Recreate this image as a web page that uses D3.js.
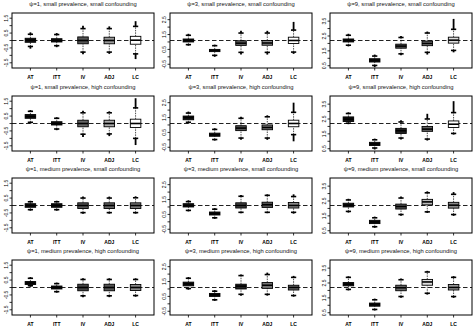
<!DOCTYPE html>
<html>
<head>
<meta charset="utf-8">
<script src="https://cdn.jsdelivr.net/npm/d3@7/dist/d3.min.js"></script>
<style>
body { margin: 0; background: #fff; }
text { font-family: 'Liberation Sans', Arial, sans-serif; }
</style>
</head>
<body>
<div id="hook-grid"></div>
<script>
'use strict';

var methods = ['AT', 'ITT', 'IV', 'ADJ', 'LC'];
var psis = [1, 3, 9];
var rowTitles = ['small prevalence, small confounding', 'small prevalence, high confounding',
  'medium prevalence, small confounding', 'medium prevalence, high confounding'];
var yTicks = [[-1.5, -1, -0.5, 0, 0.5, 1, 1.5], [-0.5, 0, 0.5, 1, 1.5, 2, 2.5], [0.5, 1, 1.5, 2, 2.5, 3, 3.5]];
var yTickLabels = [['-1.5', '-0.5', '0.5', '1.5'], ['-0.5', '0.5', '1.5', '2.5'], ['0.5', '1.5', '2.5', '3.5']];

// per box: [lowest outlier, lower whisker, q1, median, q3, upper whisker, highest outlier]
var r1c1 = [[-0.55, -0.4, -0.12, 0.02, 0.15, 0.42, 0.55], [-0.45, -0.35, -0.1, 0, 0.12, 0.4, 0.5],
  [-0.92, -0.78, -0.22, 0, 0.24, 0.8, 1.0], [-0.9, -0.78, -0.22, 0, 0.22, 0.8, 0.95], [-1.25, -0.9, -0.25, 0.02, 0.28, 0.95, 1.3]];
var r1c2 = [[0.75, 0.82, 1.0, 1.1, 1.2, 1.45, 1.55], [0.0, 0.1, 0.35, 0.43, 0.5, 0.75, 0.82],
  [0.15, 0.3, 0.77, 0.92, 1.08, 1.6, 1.75], [0.15, 0.3, 0.78, 0.93, 1.1, 1.6, 1.75], [0.2, 0.32, 0.9, 1.1, 1.32, 1.8, 2.35]];
var r1c3 = [[1.8, 1.88, 2.1, 2.2, 2.3, 2.55, 2.65], [0.4, 0.52, 0.75, 0.86, 0.97, 1.15, 1.25],
  [1.2, 1.3, 1.68, 1.82, 1.95, 2.4, 2.5], [1.25, 1.4, 1.85, 2.0, 2.15, 2.7, 2.8], [1.4, 1.53, 2.02, 2.22, 2.42, 2.95, 3.65]];
var r2c1 = [[0.0, 0.08, 0.35, 0.47, 0.6, 0.82, 0.9], [-0.45, -0.37, -0.1, 0, 0.12, 0.35, 0.42],
  [-0.9, -0.72, -0.22, 0, 0.22, 0.72, 0.85], [-0.85, -0.7, -0.22, 0, 0.22, 0.72, 0.82], [-1.45, -1.0, -0.27, 0, 0.29, 1.05, 1.7]];
var r2c2 = [[1.1, 1.18, 1.35, 1.5, 1.6, 1.8, 1.9], [-0.05, 0.02, 0.24, 0.34, 0.45, 0.7, 0.78],
  [0.0, 0.12, 0.62, 0.79, 0.95, 1.45, 1.55], [0.0, 0.12, 0.68, 0.83, 1.0, 1.55, 1.65], [-0.1, 0.35, 0.88, 1.1, 1.32, 1.85, 2.5]];
var r2c3 = [[2.15, 2.22, 2.33, 2.49, 2.64, 2.87, 2.95], [0.45, 0.55, 0.72, 0.82, 0.93, 1.1, 1.18],
  [1.12, 1.22, 1.53, 1.71, 1.87, 2.3, 2.42], [1.05, 1.15, 1.67, 1.82, 2.0, 2.5, 2.85], [1.45, 1.53, 1.93, 2.15, 2.37, 2.93, 3.7]];
var r3c1 = [[-0.35, -0.28, -0.12, 0, 0.12, 0.25, 0.32], [-0.35, -0.28, -0.12, 0, 0.12, 0.25, 0.32],
  [-0.55, -0.48, -0.2, 0, 0.18, 0.5, 0.6], [-0.55, -0.48, -0.2, 0, 0.18, 0.5, 0.6], [-0.55, -0.48, -0.2, 0, 0.18, 0.52, 0.62]];
var r3c2 = [[0.7, 0.77, 1.0, 1.1, 1.22, 1.36, 1.45], [0.2, 0.27, 0.46, 0.56, 0.66, 0.85, 0.92],
  [0.58, 0.64, 0.93, 1.1, 1.28, 1.72, 1.8], [0.58, 0.64, 0.97, 1.15, 1.32, 1.78, 1.85], [0.55, 0.64, 0.93, 1.1, 1.3, 1.7, 1.85]];
var r3c3 = [[1.72, 1.8, 2.1, 2.22, 2.35, 2.57, 2.65], [0.7, 0.77, 0.98, 1.09, 1.2, 1.37, 1.45],
  [1.5, 1.59, 1.96, 2.13, 2.29, 2.7, 2.8], [1.7, 1.77, 2.24, 2.44, 2.61, 3.05, 3.15], [1.5, 1.59, 2.02, 2.22, 2.41, 2.95, 3.1]];
var r4c1 = [[0.05, 0.12, 0.2, 0.3, 0.4, 0.62, 0.7], [-0.35, -0.28, -0.1, 0, 0.1, 0.26, 0.33],
  [-0.65, -0.56, -0.22, 0, 0.22, 0.54, 0.62], [-0.65, -0.56, -0.22, 0, 0.22, 0.54, 0.62], [-0.62, -0.54, -0.2, 0, 0.2, 0.54, 0.62]];
var r4c2 = [[0.95, 1.03, 1.21, 1.34, 1.46, 1.72, 1.8], [0.2, 0.27, 0.5, 0.6, 0.7, 0.85, 0.92],
  [0.55, 0.64, 1.0, 1.19, 1.32, 1.9, 1.98], [0.55, 0.64, 1.04, 1.25, 1.43, 1.97, 2.1], [0.48, 0.56, 0.93, 1.1, 1.25, 1.78, 1.88]];
var r4c3 = [[2.0, 2.07, 2.31, 2.42, 2.53, 2.88, 2.95], [0.65, 0.72, 0.94, 1.05, 1.15, 1.37, 1.45],
  [1.5, 1.59, 1.98, 2.18, 2.35, 2.72, 2.8], [1.72, 1.81, 2.35, 2.57, 2.74, 3.24, 3.32], [1.5, 1.59, 2.03, 2.2, 2.4, 2.88, 2.96]];

var grid = [[r1c1, r1c2, r1c3], [r2c1, r2c2, r2c3], [r3c1, r3c2, r3c3], [r4c1, r4c2, r4c3]];

// box fills as they look in the picture
var fills = [
  [['#111', '#111', '#555', '#999', '#fff'], ['#111', '#111', '#666', '#888', '#fff'], ['#111', '#111', '#555', '#777', '#ddd']],
  [['#111', '#111', '#666', '#aaa', '#fff'], ['#111', '#111', '#555', '#777', '#fff'], ['#111', '#111', '#222', '#666', '#fff']],
  [['#111', '#111', '#555', '#666', '#777'], ['#111', '#111', '#444', '#555', '#888'], ['#111', '#111', '#555', '#bbb', '#888']],
  [['#111', '#111', '#444', '#555', '#888'], ['#111', '#111', '#222', '#777', '#666'], ['#111', '#111', '#666', '#ddd', '#999']]
];

var options = {
  width: 474,
  height: 327,
  colLeft: [12, 170, 330],
  rowTop: [13, 96, 178, 260],
  plotW: 142,
  plotH: 55,
  halfRange: 1.85
};

function panel(svg, r, c) {
  var stats = grid[r][c];
  var centre = Math.log(psis[c]);
  var g = svg.append('g')
    .attr('transform', 'translate(' + options.colLeft[c] + ',' + options.rowTop[r] + ')');

  var x = d3.scaleLinear().domain([0.3, 5.7]).range([0, options.plotW]);
  var y = d3.scaleLinear().domain([centre - options.halfRange, centre + options.halfRange]).range([options.plotH, 0]);
  var bw = x(1.4) - x(1);

  g.append('text')
    .attr('x', options.plotW / 2)
    .attr('y', -7)
    .attr('text-anchor', 'middle')
    .style('font-size', '5.8px')
    .style('fill', '#111')
    .text('\u03c8=' + psis[c] + ', ' + rowTitles[r]);

  // y axis ticks
  g.selectAll('.yt').data(yTicks[c]).enter().append('line')
    .attr('x1', 0).attr('x2', -2.5)
    .attr('y1', function(d) { return y(d); })
    .attr('y2', function(d) { return y(d); })
    .style('stroke', '#000').style('stroke-width', 0.8);

  g.selectAll('.yl').data(yTickLabels[c]).enter().append('text')
    .attr('transform', function(d) { return 'translate(-4,' + y(+d) + ') rotate(-90)'; })
    .attr('text-anchor', 'middle')
    .style('font-size', '5px')
    .text(function(d) { return d; });

  // x ticks and labels
  methods.forEach(function(m, i) {
    g.append('line')
      .attr('x1', x(i + 1)).attr('x2', x(i + 1))
      .attr('y1', options.plotH).attr('y2', options.plotH + 2.5)
      .style('stroke', '#000').style('stroke-width', 0.8);
    g.append('text')
      .attr('x', x(i + 1))
      .attr('y', options.plotH + 10.5)
      .attr('text-anchor', 'middle')
      .style('font-size', '5px')
      .style('font-weight', 'bold')
      .text(m);
  });

  // dashed reference line at log(psi)
  g.append('line')
    .attr('x1', 0).attr('x2', options.plotW)
    .attr('y1', y(centre)).attr('y2', y(centre))
    .style('stroke', '#222')
    .style('stroke-width', 1)
    .style('stroke-dasharray', '4.5,2.5');

  stats.forEach(function(s, i) {
    var cx = x(i + 1);
    var b = g.append('g');
    // outliers
    b.append('line')
      .attr('x1', cx).attr('x2', cx).attr('y1', y(s[0])).attr('y2', y(s[1]))
      .style('stroke', '#000').style('stroke-width', 1.8);
    b.append('line')
      .attr('x1', cx).attr('x2', cx).attr('y1', y(s[5])).attr('y2', y(s[6]))
      .style('stroke', '#000').style('stroke-width', 1.8);
    // whiskers
    b.append('line')
      .attr('x1', cx).attr('x2', cx).attr('y1', y(s[1])).attr('y2', y(s[2]))
      .style('stroke', '#000').style('stroke-width', 0.7).style('stroke-dasharray', '1.5,1');
    b.append('line')
      .attr('x1', cx).attr('x2', cx).attr('y1', y(s[4])).attr('y2', y(s[5]))
      .style('stroke', '#000').style('stroke-width', 0.7).style('stroke-dasharray', '1.5,1');
    // staples
    [s[1], s[5]].forEach(function(v) {
      b.append('line')
        .attr('x1', cx - bw / 4).attr('x2', cx + bw / 4)
        .attr('y1', y(v)).attr('y2', y(v))
        .style('stroke', '#000').style('stroke-width', 1.6);
    });
    // box
    b.append('rect')
      .attr('x', cx - bw / 2)
      .attr('y', y(s[4]))
      .attr('width', bw)
      .attr('height', y(s[2]) - y(s[4]))
      .style('fill', fills[r][c][i])
      .style('stroke', '#000')
      .style('stroke-width', 0.9);
    b.append('line')
      .attr('x1', cx - bw / 2).attr('x2', cx + bw / 2)
      .attr('y1', y(s[3])).attr('y2', y(s[3]))
      .style('stroke', '#000').style('stroke-width', 1.6);
  });

  g.append('rect')
    .attr('x', 0).attr('y', 0)
    .attr('width', options.plotW).attr('height', options.plotH)
    .style('fill', 'none')
    .style('stroke', '#000')
    .style('stroke-width', 1);
}

function update(options) {
  var svg = d3.select('#hook-grid')
    .append('svg')
    .attr('width', options.width)
    .attr('height', options.height);

  var r, c;
  for (r = 0; r < 4; ++r) {
    for (c = 0; c < 3; ++c) {
      panel(svg, r, c);
    }
  }
}

update(options);
</script>
</body>
</html>
